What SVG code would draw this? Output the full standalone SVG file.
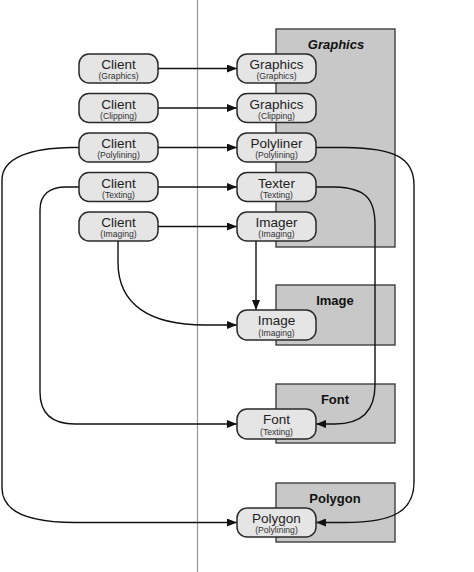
<svg xmlns="http://www.w3.org/2000/svg" width="474" height="572" viewBox="0 0 474 572">
<defs>
<marker id="arr" viewBox="0 0 10 8" refX="10" refY="4" markerWidth="10" markerHeight="8" markerUnits="userSpaceOnUse" orient="auto">
<path d="M0,0 L10,4 L0,8 Z" fill="#111"/>
</marker>
</defs>
<style>
.pkg{fill:#c8c8c8;stroke:#333;stroke-width:1.3}
.pt{font-family:"Liberation Sans",Arial,sans-serif;font-size:13px;font-weight:bold;fill:#111;text-anchor:middle}
.node rect{fill:#e5e5e5;stroke:#2a2a2a;stroke-width:1.5}
.m{font-family:"Liberation Sans",Arial,sans-serif;font-size:13.5px;fill:#222;text-anchor:middle}
.s{font-family:"Liberation Sans",Arial,sans-serif;font-size:8.6px;fill:#333;text-anchor:middle}
.c path{fill:none;stroke:#111;stroke-width:1.4}
</style>
<rect width="474" height="572" fill="#fff"/>
<line x1="197.5" y1="0" x2="197.5" y2="572" stroke="#999" stroke-width="1.2"/>
<g id="pkg-graphics"><rect class="pkg" x="276" y="29" width="119" height="218"/><text class="pt" x="336" y="49" font-style="italic">Graphics</text></g>
<g id="pkg-image"><rect class="pkg" x="276" y="285" width="119" height="60"/><text class="pt" x="335" y="305">Image</text></g>
<g id="pkg-font"><rect class="pkg" x="276" y="384" width="119" height="59"/><text class="pt" x="335" y="404">Font</text></g>
<g id="pkg-polygon"><rect class="pkg" x="276" y="483" width="119" height="59"/><text class="pt" x="335" y="503">Polygon</text></g>
<g id="connectors" class="c">
<path d="M158,68.5 H237" marker-end="url(#arr)"/>
<path d="M158,108 H237" marker-end="url(#arr)"/>
<path d="M158,147.5 H237" marker-end="url(#arr)"/>
<path d="M158,187 H237" marker-end="url(#arr)"/>
<path d="M158,226.5 H237" marker-end="url(#arr)"/>
<path d="M79,147.5 H72 C30,148 2,158 2,180 V488 C2,512 30,522.5 75,522.5 H237" marker-end="url(#arr)"/>
<path d="M79,187 H66 C50,187 40,194 40,210 V392 C40,414 52,424 75,424 H237" marker-end="url(#arr)"/>
<path d="M118,241 V262 C118,305 150,325 205,325 H237" marker-end="url(#arr)"/>
<path d="M256,241 V310" marker-end="url(#arr)"/>
<path d="M316,147.5 H345 C395,148 414,158 414,185 V482 C414,510 395,522.5 345,522.5 H316" marker-end="url(#arr)"/>
<path d="M316,187 H335 C365,188 375,198 375,225 V385 C375,412 360,424 335,424 H316" marker-end="url(#arr)"/>
</g>
<g id="client-graphics" class="node"><rect x="79" y="54" width="79" height="29" rx="10"/><text class="m" x="118.5" y="69">Client</text><text class="s" x="118.5" y="79">(Graphics)</text></g>
<g id="client-clipping" class="node"><rect x="79" y="93.5" width="79" height="29" rx="10"/><text class="m" x="118.5" y="108.5">Client</text><text class="s" x="118.5" y="118.5">(Clipping)</text></g>
<g id="client-polylining" class="node"><rect x="79" y="133" width="79" height="29" rx="10"/><text class="m" x="118.5" y="148">Client</text><text class="s" x="118.5" y="158">(Polylining)</text></g>
<g id="client-texting" class="node"><rect x="79" y="172.5" width="79" height="29" rx="10"/><text class="m" x="118.5" y="187.5">Client</text><text class="s" x="118.5" y="197.5">(Texting)</text></g>
<g id="client-imaging" class="node"><rect x="79" y="212" width="79" height="29" rx="10"/><text class="m" x="118.5" y="227">Client</text><text class="s" x="118.5" y="237">(Imaging)</text></g>
<g id="graphics-graphics" class="node"><rect x="237" y="54" width="79" height="29" rx="10"/><text class="m" x="276.5" y="69">Graphics</text><text class="s" x="276.5" y="79">(Graphics)</text></g>
<g id="graphics-clipping" class="node"><rect x="237" y="93.5" width="79" height="29" rx="10"/><text class="m" x="276.5" y="108.5">Graphics</text><text class="s" x="276.5" y="118.5">(Clipping)</text></g>
<g id="polyliner" class="node"><rect x="237" y="133" width="79" height="29" rx="10"/><text class="m" x="276.5" y="148">Polyliner</text><text class="s" x="276.5" y="158">(Polylining)</text></g>
<g id="texter" class="node"><rect x="237" y="172.5" width="79" height="29" rx="10"/><text class="m" x="276.5" y="187.5">Texter</text><text class="s" x="276.5" y="197.5">(Texting)</text></g>
<g id="imager" class="node"><rect x="237" y="212" width="79" height="29" rx="10"/><text class="m" x="276.5" y="227">Imager</text><text class="s" x="276.5" y="237">(Imaging)</text></g>
<g id="image" class="node"><rect x="237" y="310" width="79" height="30" rx="10"/><text class="m" x="276.5" y="325">Image</text><text class="s" x="276.5" y="335.5">(Imaging)</text></g>
<g id="font" class="node"><rect x="237" y="409" width="79" height="30" rx="10"/><text class="m" x="276.5" y="424">Font</text><text class="s" x="276.5" y="434.5">(Texting)</text></g>
<g id="polygon" class="node"><rect x="237" y="508" width="79" height="29" rx="10"/><text class="m" x="276.5" y="523">Polygon</text><text class="s" x="276.5" y="533">(Polylining)</text></g>
</svg>
